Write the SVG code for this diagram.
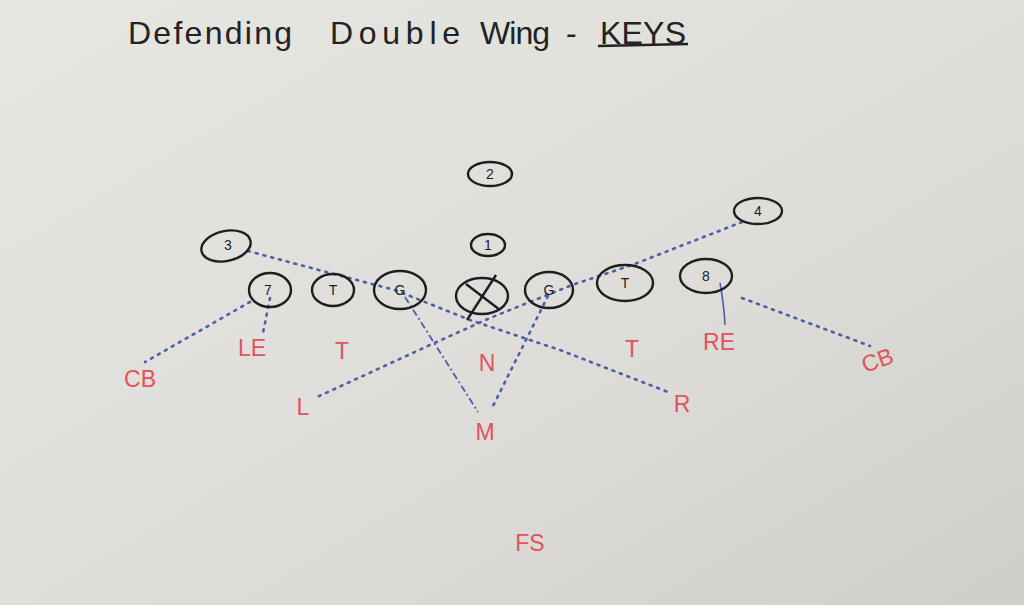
<svg xmlns="http://www.w3.org/2000/svg" width="1024" height="605" viewBox="0 0 1024 605">
<defs>
<linearGradient id="bg" x1="0" y1="0" x2="1" y2="1">
<stop offset="0" stop-color="#e6e6e2"/>
<stop offset="0.6" stop-color="#dddcd8"/>
<stop offset="1" stop-color="#cfcfca"/>
</linearGradient>
<style>
.pl{fill:none;stroke:#1e1e1e;stroke-width:2.4}
.pt{font-family:"Liberation Sans",sans-serif;font-size:14px;fill:#1e1e1e;text-anchor:middle}
.d{font-family:"Liberation Sans",sans-serif;font-size:23px;fill:#e0525c;text-anchor:middle}
.dot{fill:none;stroke:#4d5fa6;stroke-width:2.6;stroke-dasharray:2 6;stroke-linecap:round}
.sol{fill:none;stroke:#4d5fa6;stroke-width:1.6}
.dd{fill:none;stroke:#4d5fa6;stroke-width:1.8;stroke-dasharray:7 3 2 3}
</style>
</defs>
<rect width="1024" height="605" fill="url(#bg)"/>
<g id="title" font-family="Liberation Sans, sans-serif" font-size="32" fill="#222">
<text y="44"><tspan x="128" textLength="164" lengthAdjust="spacing">Defending</tspan><tspan x="330" textLength="130" lengthAdjust="spacing">Double</tspan><tspan x="480" textLength="70" lengthAdjust="spacing">Wing</tspan><tspan x="566">-</tspan><tspan x="600" textLength="86" lengthAdjust="spacing">KEYS</tspan></text>
<line x1="598" y1="46" x2="688" y2="44" stroke="#222" stroke-width="2.4"/>
</g>
<g id="connectors">
<polyline class="dot" points="248,251 330,273 395,290 470,320 560,350 668,392"/>
<polyline class="dot" points="742,222 632,265 572,285 490,318 430,345 315,398"/>
<line class="dot" x1="250" y1="302" x2="145" y2="362"/>
<line class="dot" x1="270" y1="298" x2="263" y2="333"/>
<line class="dd" x1="405" y1="297" x2="478" y2="412"/>
<line class="dot" x1="548" y1="296" x2="491" y2="410"/>
<path class="sol" d="M720 283 Q724 305 725 325"/>
<line class="dot" x1="742" y1="298" x2="870" y2="346"/>
</g>
<g id="p2"><ellipse class="pl" cx="490" cy="174" rx="22" ry="12"/><text class="pt" x="490" y="179">2</text></g>
<g id="p1"><ellipse class="pl" cx="488" cy="245" rx="17" ry="11"/><text class="pt" x="488" y="250">1</text></g>
<g id="p3"><ellipse class="pl" cx="226" cy="246" rx="25" ry="15" transform="rotate(-12 226 246)"/><text class="pt" x="228" y="250">3</text></g>
<g id="p4"><ellipse class="pl" cx="758" cy="211" rx="24" ry="13"/><text class="pt" x="758" y="216">4</text></g>
<g id="p7"><ellipse class="pl" cx="270" cy="290" rx="21" ry="17"/><text class="pt" x="268" y="295">7</text></g>
<g id="pT1"><ellipse class="pl" cx="333" cy="290" rx="21" ry="16"/><text class="pt" x="333" y="295">T</text></g>
<g id="pG1"><ellipse class="pl" cx="400" cy="290" rx="26" ry="19"/><text class="pt" x="400" y="295">G</text></g>
<g id="pC"><ellipse class="pl" cx="482" cy="296" rx="26" ry="18"/><line class="pl" x1="467" y1="320" x2="496" y2="275"/><line class="pl" x1="466" y1="284" x2="500" y2="310"/></g>
<g id="pG2"><ellipse class="pl" cx="549" cy="290" rx="24" ry="18"/><text class="pt" x="549" y="295">G</text></g>
<g id="pT2"><ellipse class="pl" cx="625" cy="283" rx="28" ry="18"/><text class="pt" x="625" y="288">T</text></g>
<g id="p8"><ellipse class="pl" cx="706" cy="276" rx="26" ry="17"/><text class="pt" x="706" y="281">8</text></g>
<g id="dCB1"><text class="d" x="140" y="387">CB</text></g>
<g id="dLE"><text class="d" x="252" y="356">LE</text></g>
<g id="dT1"><text class="d" x="342" y="359">T</text></g>
<g id="dN"><text class="d" x="487" y="371">N</text></g>
<g id="dL"><text class="d" x="303" y="415">L</text></g>
<g id="dM"><text class="d" x="485" y="440">M</text></g>
<g id="dT2"><text class="d" x="632" y="357">T</text></g>
<g id="dRE"><text class="d" x="719" y="350">RE</text></g>
<g id="dR"><text class="d" x="682" y="412">R</text></g>
<g id="dCB2"><text class="d" x="878" y="368" transform="rotate(-20 878 362)">CB</text></g>
<g id="dFS"><text class="d" x="530" y="551">FS</text></g>
</svg>
